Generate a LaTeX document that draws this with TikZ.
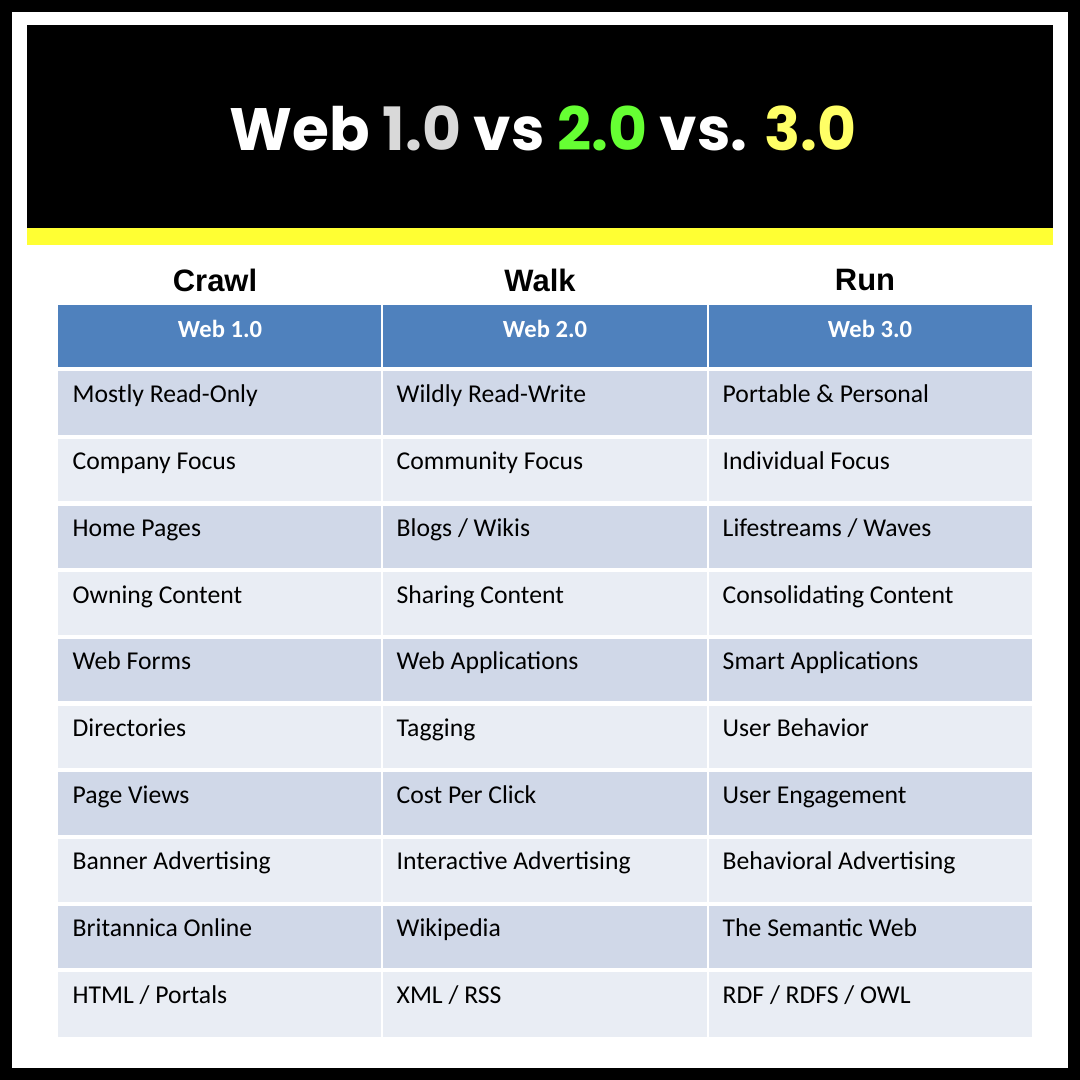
\documentclass[tikz,border=0pt]{standalone}
\usepackage{fontspec}
\setmainfont{Carlito}
\newfontfamily\titlefont{Poppins}
\newfontfamily\headfont{Liberation Sans}
\definecolor{hdrblue}{HTML}{4F81BD}
\definecolor{rowdark}{HTML}{D0D8E8}
\definecolor{rowlight}{HTML}{E9EDF4}
\definecolor{webgray}{HTML}{D9D9D9}
\definecolor{webgreen}{HTML}{66FF33}
\definecolor{webyellow}{HTML}{FFFF66}
\definecolor{stripe}{HTML}{FFFF33}
\tikzset{
  cell/.style={anchor=base west,inner sep=0pt,font=\fontsize{7.3pt}{9pt}\selectfont},
  phase/.style={font=\headfont\bfseries\fontsize{8.8pt}{10pt}\selectfont},
  webhead/.style={text=white,font=\bfseries\fontsize{7pt}{8pt}\selectfont}
}
\begin{document}
\begin{tikzpicture}[x=0.01cm,y=-0.01cm]
  \useasboundingbox (0,0) rectangle (1080,1080);
  \fill[black] (0,0) rectangle (1080,1080);
  \fill[white] (12,12) rectangle (1068,1068);
  \fill[black] (27,25) rectangle (1053,228);
  \fill[stripe] (27,228) rectangle (1053,245);
  \node[font=\titlefont\bfseries\fontsize{17pt}{20pt}\selectfont,text=white] (title) at (543,128)
    {Web \textcolor{webgray}{1.0} vs \textcolor{webgreen}{2.0} vs. \textcolor{webyellow}{3.0}};
  % column headings
  \def \Cols{1/58/382/Crawl/Web 1.0, 2/382/708/Walk/Web 2.0, 3/708/1032/Run/Web 3.0}
  \foreach \c / \l / \r / \p / \w in \Cols{
    \node[phase] (phase\c) at ({(\l+\r)/2-5},280) {\p};
    \fill[hdrblue] (\l,305) rectangle (\r,368);
    \node[webhead] (head\c) at ({(\l+\r)/2},329) {\w};
  }
  % rows
  \def \Rows{
    1/Mostly Read-Only/Wildly Read-Write/Portable \& Personal,
    2/Company Focus/Community Focus/Individual Focus,
    3/Home Pages/Blogs \slash{} Wikis/Lifestreams \slash{} Waves,
    4/Owning Content/Sharing Content/Consolidating Content,
    5/Web Forms/Web Applications/Smart Applications,
    6/Directories/Tagging/User Behavior,
    7/Page Views/Cost Per Click/User Engagement,
    8/Banner Advertising/Interactive Advertising/Behavioral Advertising,
    9/Britannica Online/Wikipedia/The Semantic Web,
    10/HTML \slash{} Portals/XML \slash{} RSS/RDF \slash{} RDFS \slash{} OWL}
  \foreach \i / \a / \b / \d in \Rows{
    \pgfmathsetmacro\top{370+(\i-1)*66.7}
    \pgfmathtruncatemacro\odd{mod(\i,2)}
    \ifnum\odd=1 \def\rc{rowdark}\else\def\rc{rowlight}\fi
    \fill[\rc] (58,\top) rectangle (1032,\top+66.7);
    \node[cell] (a\i) at (72,\top+33) {\a};
    \node[cell] (b\i) at (396,\top+33) {\b};
    \node[cell] (d\i) at (722,\top+33) {\d};
  }
  % white grid lines
  \foreach \i in {1,...,9}{
    \draw[white,line width=1.2pt] (58,{370+\i*66.7}) -- (1032,{370+\i*66.7});
  }
  \draw[white,line width=1.2pt] (58,369) -- (1032,369);
  \draw[white,line width=0.8pt] (382,305) -- (382,1037);
  \draw[white,line width=0.8pt] (708,305) -- (708,1037);
\end{tikzpicture}
\end{document}
